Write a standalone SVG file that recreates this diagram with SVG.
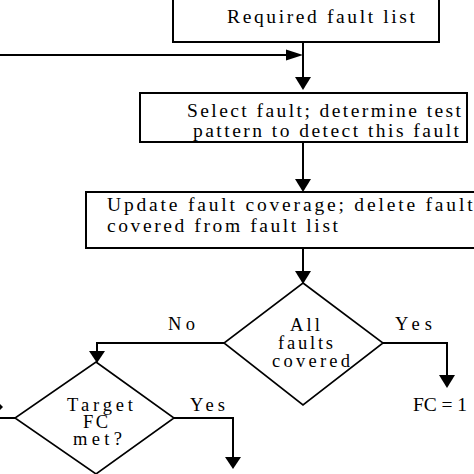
<svg xmlns="http://www.w3.org/2000/svg" width="474" height="474" viewBox="0 0 474 474">
<style>
.box{fill:#fff;stroke:#000;stroke-width:2}
.dia{fill:#fff;stroke:#000;stroke-width:1.6}
.ln{fill:none;stroke:#000;stroke-width:2}
.ah{fill:#000;stroke:none}
text{font-family:"Liberation Serif","Times New Roman",serif;font-size:19.5px;fill:#000}
.s{font-size:18.5px}
</style>
<rect width="474" height="474" fill="#fff"/>
<g id="connectors">
<line class="ln" x1="303" y1="42" x2="303" y2="80"/>
<polygon class="ah" points="295,77 311,77 303,90"/>
<line class="ln" x1="0" y1="55" x2="290" y2="55"/>
<polygon class="ah" points="286,49.5 286,60.5 303,55"/>
<line class="ln" x1="303" y1="142" x2="303" y2="182"/>
<polygon class="ah" points="295,179 311,179 303,192"/>
<line class="ln" x1="303" y1="248" x2="303" y2="274"/>
<polygon class="ah" points="295,271 311,271 303,284"/>
<polyline class="ln" points="224,343 97,343 97,353"/>
<polygon class="ah" points="89,351 105,351 97,363"/>
<polyline class="ln" points="383,343 447,343 447,377"/>
<polygon class="ah" points="439,375 455,375 447,388"/>
<polyline class="ln" points="173,418 233,418 233,459"/>
<polygon class="ah" points="225,457 241,457 233,469"/>
<line class="ln" x1="0" y1="418" x2="15" y2="418"/>
<polygon class="ah" points="0,404 0,410 3,407"/>
</g>
<g id="node-required">
<rect class="box" x="173" y="-2" width="266" height="44"/>
<text x="227" y="23" textLength="188" lengthAdjust="spacing">Required fault list</text>
</g>
<g id="node-select">
<rect class="box" x="140" y="93" width="327" height="49"/>
<text x="187" y="117" textLength="274" lengthAdjust="spacing">Select fault; determine test</text>
<text x="193" y="137" textLength="266" lengthAdjust="spacing">pattern to detect this fault</text>
</g>
<g id="node-update">
<rect class="box" x="86" y="192" width="400" height="56"/>
<text x="107" y="211" textLength="376" lengthAdjust="spacing">Update fault coverage; delete faults</text>
<text x="107" y="232" textLength="231" lengthAdjust="spacing">covered from fault list</text>
</g>
<g id="node-all-covered">
<polygon class="dia" points="303,283 383,343 303,405 224,343"/>
<text class="s" x="290" y="331" textLength="30" lengthAdjust="spacing">All</text>
<text class="s" x="278" y="349" textLength="55" lengthAdjust="spacing">faults</text>
<text class="s" x="272" y="367" textLength="78" lengthAdjust="spacing">covered</text>
</g>
<g id="node-target">
<polygon class="dia" points="96,362 174,418 96,474 15,418"/>
<text class="s" x="67" y="411" textLength="66" lengthAdjust="spacing">Target</text>
<text class="s" x="83" y="428" textLength="25" lengthAdjust="spacing">FC</text>
<text class="s" x="73" y="445" textLength="49" lengthAdjust="spacing">met?</text>
</g>
<g id="node-fc1">
<text x="413" y="411" textLength="54" lengthAdjust="spacing">FC = 1</text>
</g>
<g id="labels">
<text class="s" x="168" y="330" textLength="27" lengthAdjust="spacing">No</text>
<text class="s" x="395" y="330" textLength="37" lengthAdjust="spacing">Yes</text>
<text class="s" x="190" y="411" textLength="35" lengthAdjust="spacing">Yes</text>
</g>
</svg>
